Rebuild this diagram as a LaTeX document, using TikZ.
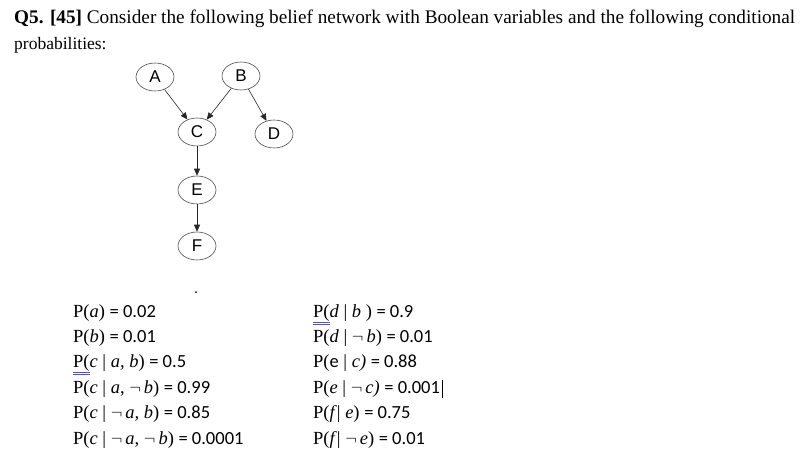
\documentclass[tikz,border=0pt]{standalone}
\usepackage{fontspec}
\setmainfont{Liberation Serif}
\newfontfamily\carlitofont{Carlito}
\newfontfamily\gsans{Liberation Sans}
\usetikzlibrary{shapes.geometric,arrows.meta}
\tikzset{bn/.style={ellipse,draw=black!70,semithick,minimum width=38pt,minimum height=28pt,inner sep=0pt,font=\gsans\fontsize{17}{17}\selectfont},
ar/.style={-{Triangle[length=7pt,width=6pt]},black!85,semithick},
pl/.style={anchor=west,font=\fontsize{18.5}{18.5}\selectfont,inner sep=0pt}}
\newcommand{\numf}[1]{{\carlitofont #1}}
\newcommand{\vv}[1]{\textit{#1}}
\begin{document}
\begin{tikzpicture}[x=1pt,y=-1pt]
\useasboundingbox (0,0) rectangle (811,460);
\node[pl] (t1) at (14,19) {\resizebox{781pt}{!}{\textbf{Q5. [45]} Consider the following belief network with Boolean variables and the following conditional}};
\node[pl] (t2) at (14,45) {\fontsize{17.5}{17.5}\selectfont probabilities:};
\node[bn] (A) at (155,77) {A};
\node[bn] (B) at (241,76) {B};
\node[bn] (C) at (197,132) {C};
\node[bn] (D) at (274,134) {D};
\node[bn] (E) at (197,190) {E};
\node[bn] (F) at (197,246) {F};
\draw[ar] (A) -- (C);
\draw[ar] (B) -- (C);
\draw[ar] (B) -- (D);
\draw[ar] (C) -- (E);
\draw[ar] (E) -- (F);
\fill (196,292) circle (1);
\node[pl] (l1) at (73,313) {P(\vv{a}) \numf{= 0.02}};
\node[pl] (l2) at (73,338) {P(\vv{b}) \numf{= 0.01}};
\node[pl] (l3) at (73,363) {P(\vv{c} | \vv{a, b}) \numf{= 0.5}};
\node[pl] (l4) at (73,389) {P(\vv{c} | \vv{a}, $\neg$\,\vv{b}) \numf{= 0.99}};
\node[pl] (l5) at (73,414) {P(\vv{c} | $\neg$\,\vv{a, b}) \numf{= 0.85}};
\node[pl] (l6) at (73,440) {P(\vv{c} | $\neg$\,\vv{a}, $\neg$\,\vv{b}) \numf{= 0.0001}};
\node[pl] (r1) at (313,313) {P(\vv{d} | \vv{b} ) \numf{= 0.9}};
\node[pl] (r2) at (313,338) {P(\vv{d} | $\neg$\,\vv{b}) \numf{= 0.01}};
\node[pl] (r3) at (313,363) {P(\numf{e} | \vv{c)} \numf{= 0.88}};
\node[pl] (r4) at (313,389) {P(\vv{e} | $\neg$\,\vv{c)} \numf{= 0.001}};
\node[pl] (r5) at (313,414) {P(\vv{f}| \vv{e}) \numf{= 0.75}};
\node[pl] (r6) at (313,440) {P(\vv{f}| $\neg$\,\vv{e}) \numf{= 0.01}};
\draw[blue!70,thin] (73,372) -- (90,372) (73,374) -- (90,374);
\draw[blue!70,thin] (313,322) -- (330,322) (313,324) -- (330,324);
\draw[thin] ([xshift=2pt]r4.east) ++(0,-9) -- ++(0,18);
\end{tikzpicture}
\end{document}
